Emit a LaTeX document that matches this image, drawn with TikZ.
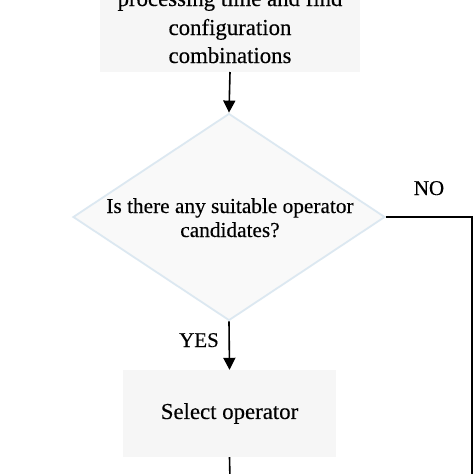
\documentclass[tikz,border=0pt]{standalone}
\usepackage{fontspec}
\setmainfont{Liberation Serif}[FakeBold=0.3]
\usetikzlibrary{arrows.meta,shapes.geometric}
\definecolor{boxfill}{RGB}{246,246,246}
\definecolor{diafill}{RGB}{249,249,249}
\definecolor{diaedge}{RGB}{220,232,241}
\tikzset{
  box/.style={rectangle, fill=boxfill, draw=none, inner sep=0pt},
  dia/.style={diamond, fill=diafill, draw=diaedge, line width=1.8pt, inner sep=0pt},
  txt/.style={inner sep=0pt, anchor=base},
  conn/.style={line width=1.6pt, draw=black},
  arr/.style={conn, -{Triangle[width=12pt,length=12pt]}},
}
\begin{document}
\begin{tikzpicture}[x=1pt,y=-1pt]
\useasboundingbox (0,0) rectangle (474,474);
\clip (0,0) rectangle (474,474);
\fill[white] (0,0) rectangle (474,474);
% top box
\node[box, minimum width=260pt, minimum height=120pt, anchor=south] (top) at (230,72) {};
\node[txt, font=\fontsize{22.8}{29}\selectfont] (t1) at (230,6) {processing time and find};
\node[txt, font=\fontsize{22.8}{29}\selectfont] (t2) at (230,35) {configuration};
\node[txt, font=\fontsize{22.8}{29}\selectfont] (t3) at (230,63) {combinations};
% diamond
\node[dia, minimum width=312pt, minimum height=207pt] (d) at (229,217) {};
\node[txt, font=\fontsize{21.3}{24}\selectfont] (q1) at (230,213) {Is there any suitable operator};
\node[txt, font=\fontsize{21.3}{24}\selectfont] (q2) at (230,237) {candidates?};
% select box
\node[box, minimum width=213pt, minimum height=87pt, font=\fontsize{22.8}{26}\selectfont] (sel) at (229.5,413.5) {Select operator};
% labels
\node[txt, font=\fontsize{21}{24}\selectfont] (no) at (429,195) {NO};
\node[txt, anchor=base east, font=\fontsize{21}{24}\selectfont] (yes) at (219,347) {YES};
% coordinates
\coordinate (nocorner) at (472,217);
\coordinate (noend) at (472,480);
\coordinate (selend) at (230,480);
% connectors
\draw[arr] (top.south -| 230,0) -- (d.north);
\draw[arr] (d.south) -- (sel.north);
\draw[conn] (d.east) -- (nocorner) -- (noend);
\draw[conn] (sel.south) -- (selend);
\end{tikzpicture}
\end{document}
